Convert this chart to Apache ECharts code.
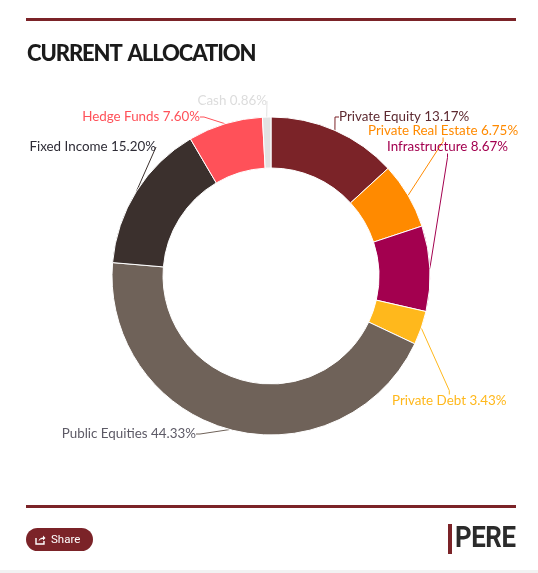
<!DOCTYPE html>
<html><head><meta charset="utf-8">
<script src="https://cdn.jsdelivr.net/npm/echarts@6/dist/echarts.min.js"></script>
<style>
html,body{margin:0;padding:0;background:#fff;width:538px;height:573px;overflow:hidden}
#chart{position:absolute;left:0;top:0;width:538px;height:573px}
.rule{position:absolute;left:26px;width:490px;height:3px;background:#7b2328}
#title{position:absolute;left:27px;top:39px;font-family:Lato,sans-serif;font-weight:900;font-size:22px;color:#1b1b1b;letter-spacing:-1.1px;word-spacing:3px;white-space:nowrap}
#share{position:absolute;left:26px;top:528px;width:67px;height:23px;border-radius:12px;background:#7b2328;color:#fff;font-family:Roboto,sans-serif;font-size:11.5px;line-height:23px}
#share svg{position:absolute;left:9px;top:6px}
#share span{position:absolute;left:25px}
#bar{position:absolute;left:448px;top:524px;width:4px;height:30px;background:#7b2328}
#logo{position:absolute;left:455px;top:519px;font-family:Roboto,sans-serif;font-weight:bold;font-size:30px;color:#2b2b2b;transform:scaleX(0.86);transform-origin:left top;letter-spacing:-0.5px}
#band{position:absolute;left:0;top:570px;width:538px;height:3px;background:#f2f2f2}
</style></head>
<body>
<div id="chart"></div>
<div class="rule" style="top:18px"></div>
<div id="title">CURRENT ALLOCATION</div>
<div class="rule" style="top:505px"></div>
<div id="share"><svg width="11" height="11" viewBox="0 0 11 11"><path d="M1 4 V10 H9 V7" fill="none" stroke="#fff" stroke-width="1.4"/><path d="M3.5 7.5 C4 4.5 6 3.5 8 3.5 V1.5 L10.5 4 L8 6.5 V5 C6 5 4.5 5.8 3.5 7.5 Z" fill="#fff"/></svg><span>Share</span></div>
<div id="bar"></div>
<div id="logo">PERE</div>
<div id="band"></div>
<script>
const categories = ['Private Equity','Private Real Estate','Infrastructure','Private Debt','Public Equities','Fixed Income','Hedge Funds','Cash'];
const shares = [13.17, 6.75, 8.67, 3.43, 44.33, 15.20, 7.60, 0.86];
const sliceColors = ['#7b2328','#ff8a00','#a3004f','#ffb81c','#6f6259','#3b302d','#ff5159','#e2e2e2'];
const labelColors = ['#5e2a31','#ff8a00','#a3004f','#ffb81c','#5d5a66','#2e2c36','#ff5159','#dcdcdc'];
const labelSpots = [[339,117,'left'],[368,131,'left'],[387,147,'left'],[392,401,'left'],[196,434,'right'],[156,147,'right'],[200,117,'right'],[267,101,'right']];

const chart = echarts.init(document.getElementById('chart'), null, {renderer:'canvas'});
chart.setOption({
  animation:false,
  series:[{
    type:'pie',
    center:[271,276],
    radius:[108,159],
    startAngle:90,
    clockwise:true,
    avoidLabelOverlap:false,
    itemStyle:{borderColor:'#fff',borderWidth:1},
    label:{
      show:true,position:'outside',
      fontFamily:'Lato',fontSize:13.4,
      formatter:p=>p.name+' '+shares[p.dataIndex].toFixed(2)+'%'
    },
    labelLine:{show:true,length:6,length2:4,lineStyle:{width:1}},
    labelLayout:function(p){const s=labelSpots[p.dataIndex];return {x:s[0],y:s[1],align:s[2],verticalAlign:'middle'};},
    emphasis:{disabled:true},
    data:categories.map((c,i)=>({name:c,value:shares[i],itemStyle:{color:sliceColors[i]},label:{color:labelColors[i]}}))
  }]
});
</script>
</body></html>
